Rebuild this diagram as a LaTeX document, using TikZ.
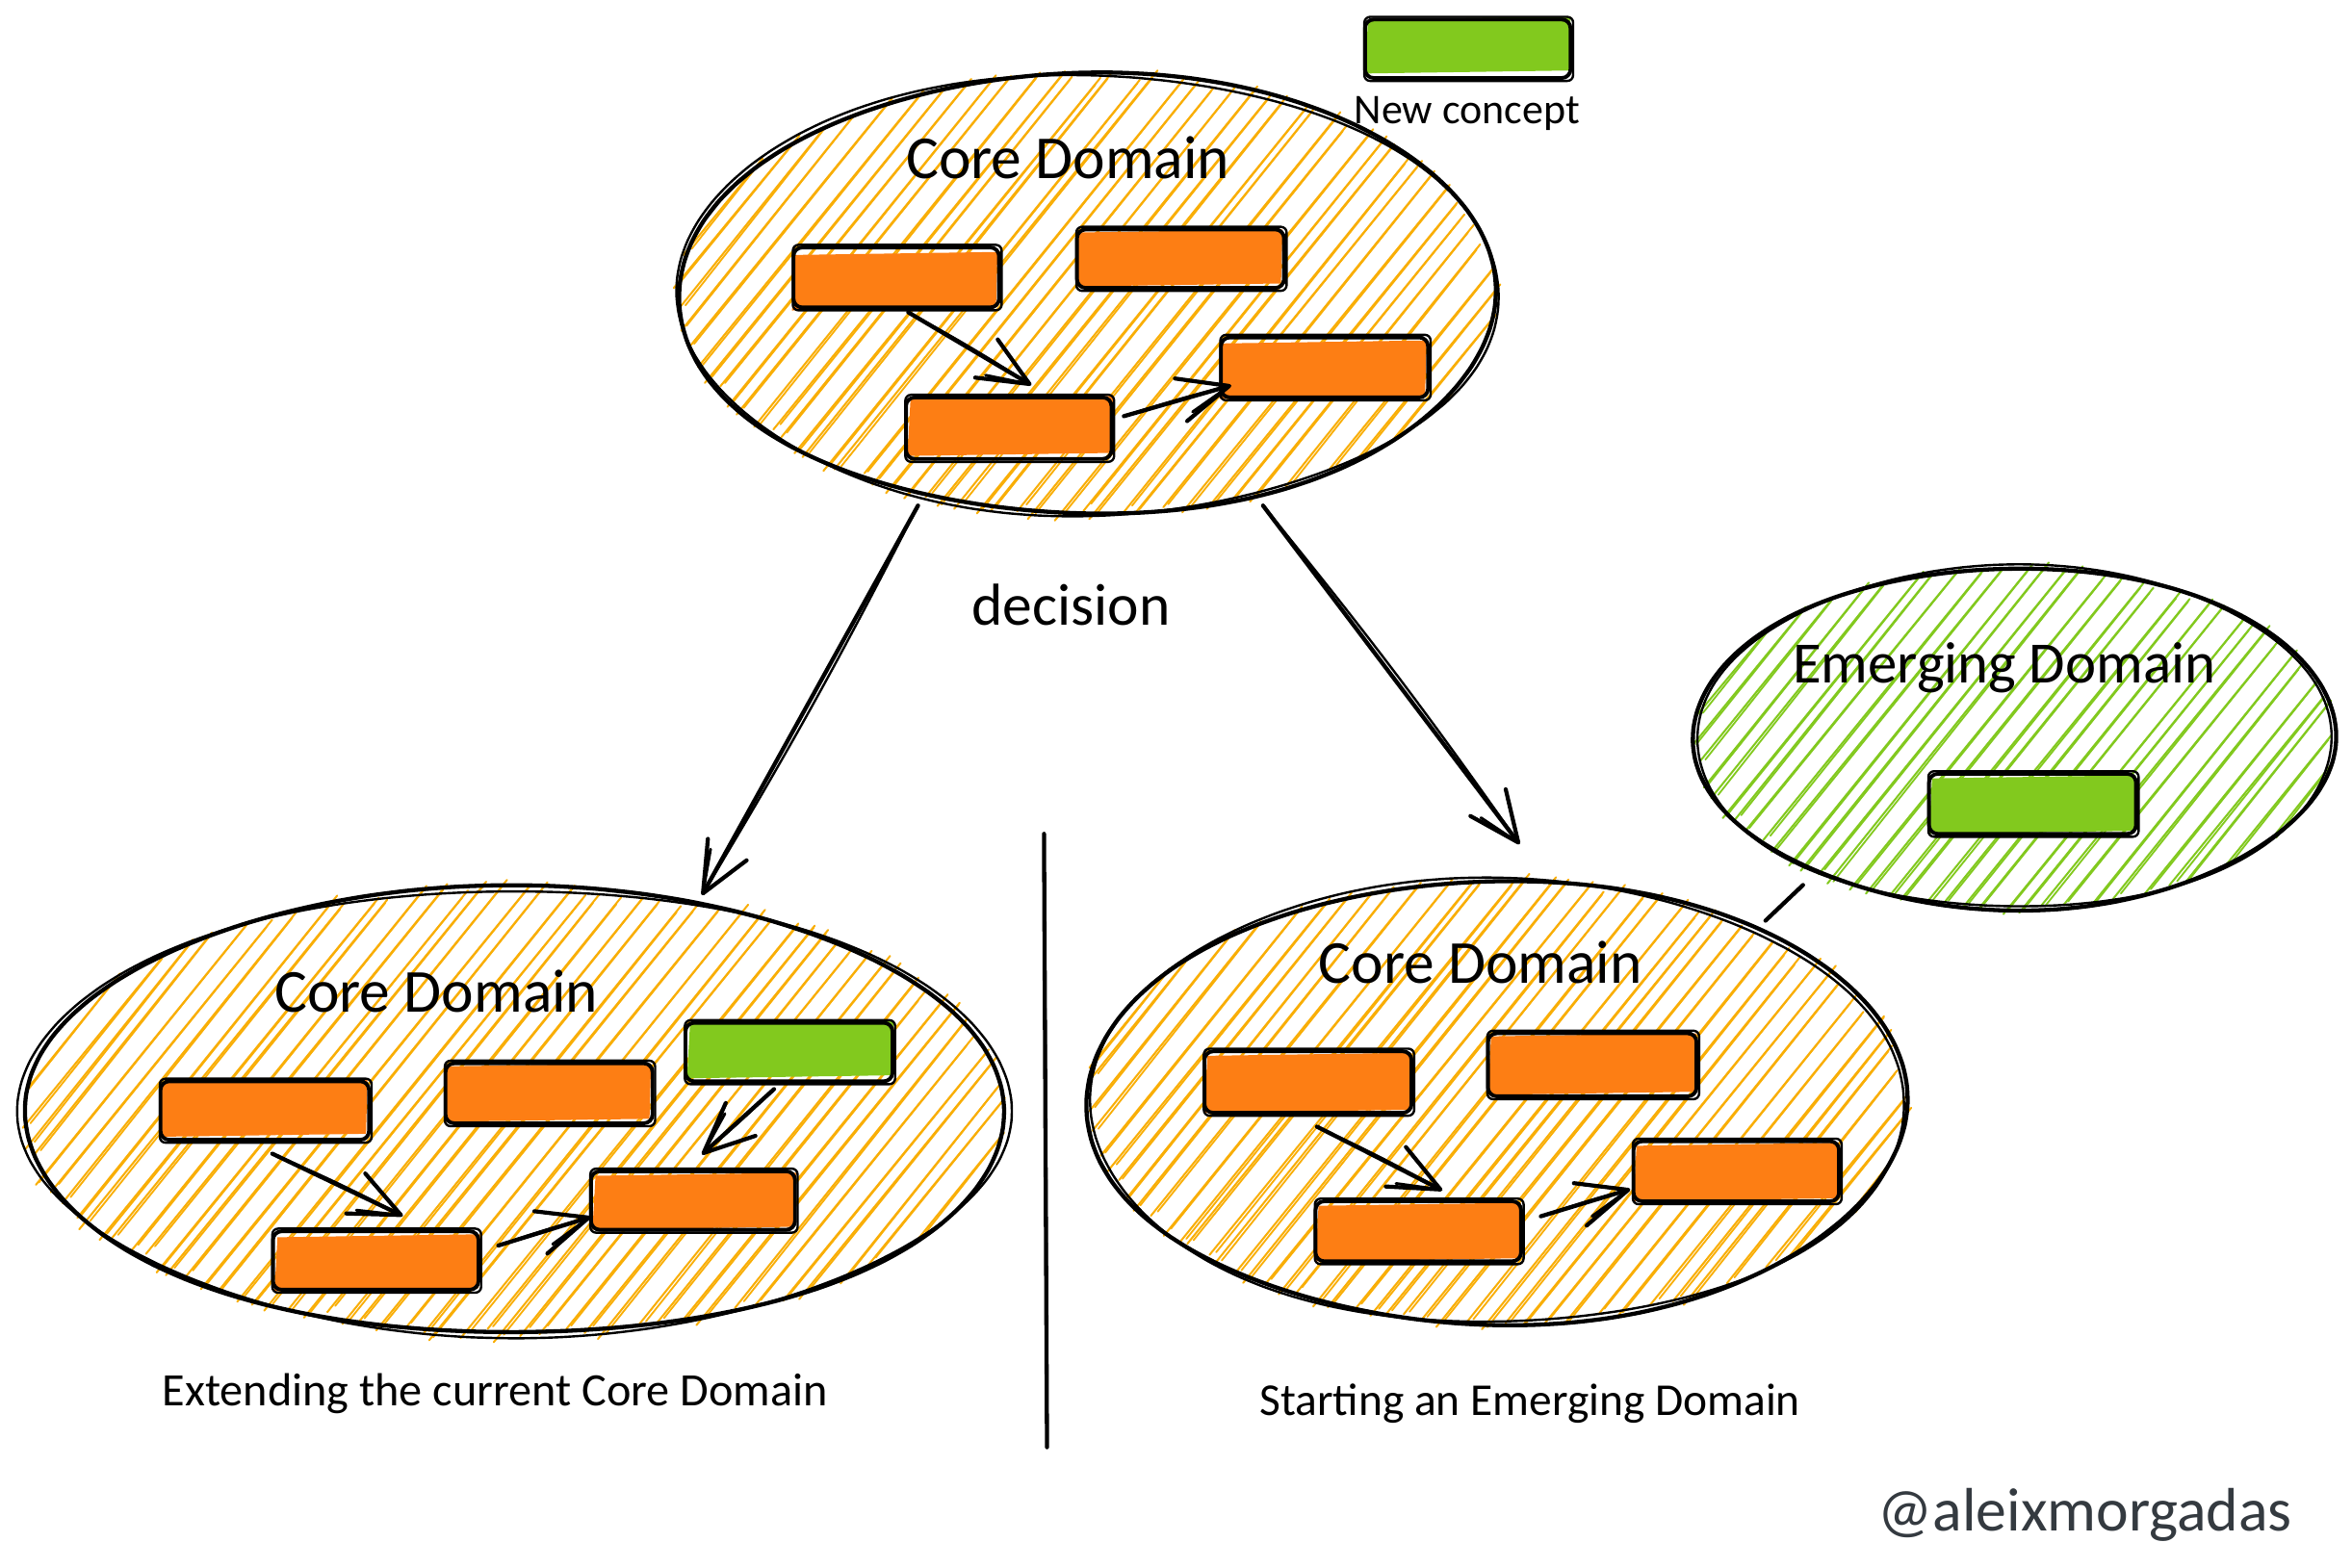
\documentclass[tikz,border=0pt]{standalone}
\usepackage{graphicx}
\usepackage{fontspec}
\setmainfont{Carlito}
\usetikzlibrary{calc,arrows.meta,shapes.geometric}
\definecolor{boxorange}{HTML}{FD7E14}
\definecolor{boxgreen}{HTML}{82C91E}
\definecolor{hachorange}{HTML}{F9AE05}
\definecolor{hachgreen}{HTML}{82C91E}
\definecolor{signgray}{HTML}{343A40}
\tikzset{
  x=1.558pt,y=-1.558pt,
  skline/.style={line width=4.3pt,line cap=round,line join=round,black},
  skthin/.style={line width=2.4pt,line cap=round,line join=round,black},
  boxnode/.style={draw=black,line width=3.9pt,rounded corners=9pt,inner sep=0pt},
  ellnode/.style={ellipse,inner sep=0pt,draw=none},
  tiphead/.style={-{Straight Barb[length=52pt,width=46pt,line width=4.2pt,round]}},
  tiphead2/.style={-{Straight Barb[length=44pt,width=34pt,line width=3pt,round]}},
  label/.style={inner sep=0pt,black},
}
\newcommand\hachure[5]{%
  \pgfmathsetmacro\hR{#3/#4}
  \pgfmathsetmacro\hu{cos(51)}
  \pgfmathsetmacro\hv{sin(51)}
  \pgfmathsetmacro\hA{\hu*\hu+\hv*\hv*\hR*\hR}
  \pgfmathsetmacro\hstep{14/#3}
  \foreach \i in {-34,...,34}{
    \pgfmathsetmacro\hD{\i*\hstep+0.3*\hstep*rand}
    \pgfmathsetmacro\hB{\hD*\hu}
    \pgfmathsetmacro\hC{\hD*\hD-1}
    \pgfmathsetmacro\hdisc{\hB*\hB-\hA*\hC}
    \ifdim\hdisc pt>0.0005pt
      \pgfmathsetmacro\hs{sqrt(\hdisc)}
      \pgfmathsetmacro\ta{(-\hB-\hs)/\hA-0.018*rand-0.004}
      \pgfmathsetmacro\tb{(-\hB+\hs)/\hA+0.018*rand+0.004}
      \pgfmathsetmacro\tc{\ta+0.004+0.02*rnd}
      \pgfmathsetmacro\td{\tb-0.004-0.02*rnd}
      \pgfmathsetmacro\hj{0.8+2.2*rnd}
      \pgfmathsetmacro\hk{1.5*rand}
      \draw[#5,line width=2pt,line cap=round]
        ({#1+#3*(\hD+\ta*\hu)},{#2-#3*\ta*\hv}) -- ({#1+\hk+#3*(\hD+\tb*\hu)},{#2-#3*\tb*\hv});
      \draw[#5,line width=1.8pt,line cap=round]
        ({#1+\hj+#3*(\hD+\tc*\hu)},{#2-#3*\tc*\hv}) -- ({#1+\hj*0.2+\hk+#3*(\hD+\td*\hu)},{#2-#3*\td*\hv});
    \fi
  }%
}
% name cx cy a b : invisible named ellipse with two rough outlines, phases #6,#7
\newcommand\skell[7]{%
  \node[ellnode,minimum width={2*#4*1.558pt},minimum height={2*#5*1.558pt}] (#1) at (#2,#3) {};
  \draw[skline] plot[smooth,samples=72,domain=#6:{#6+375},variable=\t]
    ({#2+#4*cos(\t)*(1+0.008*sin(2*\t+#6))},{#3+#5*sin(\t)*(1+0.012*cos(3*\t+#6))});
  \draw[skthin] plot[smooth,samples=72,domain=#7:{#7+365},variable=\t]
    ({#2+#4*cos(\t)*(1+0.008*sin(2*\t+#7))},{#3+#5*sin(\t)*(1+0.016*cos(3*\t+#7))});
}
% name x1 x2 y1 y2 colour dx dy
\newcommand\skbox[8]{%
  \fill[#6] ({#2+2+#7},{#4+#8+3}) -- ({#3+#7},{#4+#8+1}) -- ({#3+#7-1},{#5+#8-2}) -- ({#2+#7},{#5+#8}) -- cycle;
  \node[boxnode,minimum width={(#3-#2)*1.558pt},minimum height={(#5-#4)*1.558pt}] (#1) at ({(#2+#3)/2},{(#4+#5)/2}) {};
  \draw[skthin,rounded corners=6pt] ($(#1.north west)+(0.8,-0.5)$) rectangle ($(#1.south east)+(0.5,0.7)$);
}
% from, to
\newcommand\skarrow[2]{%
  \draw[skline,tiphead] #1 -- #2;
  \draw[skthin,tiphead2] #1 to[bend left=2] #2;
}
\begin{document}
\begin{tikzpicture}
\useasboundingbox (0,0) rectangle (1568,1045);
\fill[white] (0,0) rectangle (1568,1045);
\pgfmathsetseed{11}
\hachure{725}{196}{273}{147}{hachorange}
\hachure{343}{741}{329}{149}{hachorange}
\hachure{998}{735}{273}{148}{hachorange}
\hachure{1343}{492}{213}{114}{hachgreen}
\skell{top}{725}{196}{273}{147}{200}{30}
\skell{bl}{343}{741}{329}{149}{280}{90}
\skell{br}{998}{735}{273}{148}{160}{310}
\skell{gr}{1343}{492}{213}{114}{120}{250}
% legend
\skbox{leg}{910}{1047}{13}{52}{boxgreen}{0}{-3}
\node[label] (tleg) at (978,76) {\resizebox{234pt}{!}{New concept}};
% top group
\skbox{a}{529}{666}{165}{205}{boxorange}{-1}{2}
\skbox{b}{718}{856}{153}{192}{boxorange}{-1}{-1}
\skbox{c}{604}{741}{265}{306}{boxorange}{1}{-2}
\skbox{d}{814}{952}{225}{265}{boxorange}{-1}{1}
\skarrow{($(a.south)+(8,2)$)}{($(c.north)+(15,-7)$)}
\skarrow{($(c.east)+(7,-8)$)}{($(d.west)+(8,12)$)}
\node[label] (ttop) at (712,105) {\resizebox{336pt}{!}{Core Domain}};
\node[label] (tdec) at (714,403) {\resizebox{206pt}{!}{decision}};
% bottom left group
\skbox{e}{107}{246}{721}{760}{boxorange}{-1}{-2}
\skbox{f}{297}{435}{709}{749}{boxorange}{-1}{-1}
\skbox{g}{457}{595}{682}{721}{boxgreen}{1}{-2}
\skbox{h}{182}{319}{821}{860}{boxorange}{1}{1}
\skbox{i}{394}{530}{781}{820}{boxorange}{1}{0}
\skarrow{($(e.south)+(5,8)$)}{($(h.north)+(18,-9)$)}
\skarrow{($(g.south)+(-10,4)$)}{($(i.north)+(6,-10)$)}
\skarrow{($(h.east)+(12,-10)$)}{($(i.west)+(1,11)$)}
\node[label] (tbl) at (291,661) {\resizebox{336pt}{!}{Core Domain}};
\node[label] (text) at (330,929) {\resizebox{691pt}{!}{Extending the current Core Domain}};
% bottom right group
\skbox{j}{803}{941}{701}{742}{boxorange}{0}{0}
\skbox{k}{992}{1131}{689}{731}{boxorange}{0}{-1}
\skbox{l}{877}{1014}{801}{841}{boxorange}{0}{0}
\skbox{m}{1089}{1226}{761}{801}{boxorange}{0}{0}
\skarrow{($(j.south)+(6,8)$)}{($(l.north)+(16,-6)$)}
\skarrow{($(l.east)+(12,-10)$)}{($(m.west)+(-1,12)$)}
\node[label] (tbr) at (987,642) {\resizebox{336pt}{!}{Core Domain}};
\node[label] (tstart) at (1020,936) {\resizebox{561pt}{!}{Starting an Emerging Domain}};
% emerging
\skbox{n}{1286}{1424}{516}{556}{boxgreen}{0}{0}
\node[label] (tem) at (1336,445) {\resizebox{439pt}{!}{Emerging Domain}};
% decision arrows
\skarrow{($(top.south)+(-113,-6)$)}{($(bl.north)+(125,5)$)}
\skarrow{($(top.south)+(117,-6)$)}{($(br.north)+(15,-24)$)}
\draw[skline] ($(gr.south)+(-141,-16)$) -- ($(br.north)+(179,27)$);
% divider
\coordinate (divT) at (696,556);
\coordinate (divB) at (698,965);
\draw[skline] (divT) -- (divB);
\draw[skthin] (divT) to[bend left=0.2] (divB);
\node[label,text=signgray] (sign) at (1390,1010) {\resizebox{430pt}{!}{@aleixmorgadas}};
\end{tikzpicture}
\end{document}
